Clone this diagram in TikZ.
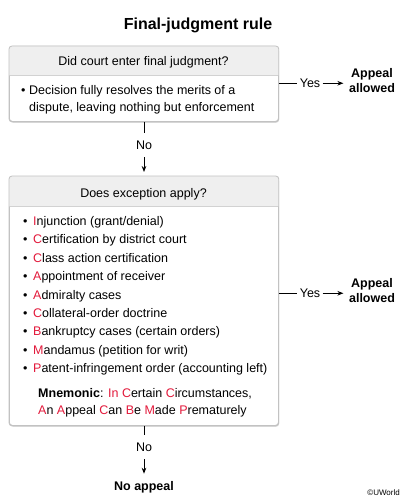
\documentclass[tikz,border=0pt]{standalone}
\usepackage{fontspec}
\setmainfont{Liberation Sans}
\usetikzlibrary{shadows,arrows.meta}
\definecolor{hdr}{HTML}{EFEFEF}
\definecolor{bord}{HTML}{C2C2C2}
\definecolor{divc}{HTML}{D2D2D2}
\definecolor{redl}{HTML}{E3193B}
\newcommand{\RL}[1]{\textcolor{redl}{#1}}
\newcommand{\bul}{\makebox[10pt][l]{•}}
\begin{document}
\begin{tikzpicture}[x=1pt,y=-1pt,
  box/.style={draw=bord, line width=0.8pt, rounded corners=3pt, fill=white, inner sep=0pt,
    drop shadow={opacity=0.3, shadow xshift=0.6pt, shadow yshift=-1.4pt}},
  txt/.style={font=\fontsize{12.5}{15}\selectfont, inner sep=0pt},
  bld/.style={font=\fontsize{12.5}{15}\bfseries\selectfont, inner sep=0pt, align=center},
  arr/.style={-{Stealth[length=6pt,width=4.6pt]}, line width=0.9pt},
  ln/.style={line width=0.9pt}]
\useasboundingbox (0,0) rectangle (404,500);

% title
\node[font=\fontsize{16}{19}\bfseries\selectfont, inner sep=0pt, anchor=base] (title) at (198,30) {Final-judgment rule};

% box 1
\node[box, anchor=north west, minimum width=269pt, minimum height=75pt] (b1) at (9,46) {};
\begin{scope}
\clip[rounded corners=3pt] (b1.north west) rectangle (b1.south east);
\fill[hdr] (b1.north west) rectangle ([yshift=-29pt]b1.north east);
\end{scope}
\draw[divc, line width=0.6pt] ([yshift=-29pt]b1.north west) -- ([yshift=-29pt]b1.north east);
\draw[bord, line width=0.8pt, rounded corners=3pt] (b1.north west) rectangle (b1.south east);
\node[txt, anchor=base] (h1) at (143.5,66) {Did court enter final judgment?};
\node[txt, anchor=base west] (d1a) at (21,95) {• Decision fully resolves the merits of a};
\node[txt, anchor=base west] (d1b) at (29,111) {dispute, leaving nothing but enforcement};

% box 2
\node[box, anchor=north west, minimum width=269pt, minimum height=249pt] (b2) at (9,176) {};
\begin{scope}
\clip[rounded corners=3pt] (b2.north west) rectangle (b2.south east);
\fill[hdr] (b2.north west) rectangle ([yshift=-30pt]b2.north east);
\end{scope}
\draw[divc, line width=0.6pt] ([yshift=-30pt]b2.north west) -- ([yshift=-30pt]b2.north east);
\draw[bord, line width=0.8pt, rounded corners=3pt] (b2.north west) rectangle (b2.south east);
\node[txt, anchor=base] (h2) at (143.5,197.5) {Does exception apply?};

\node[txt, anchor=base west] (i1) at (23,225.5) {\bul\RL{I}njunction (grant/denial)};
\node[txt, anchor=base west] (i2) at (23,243.9) {\bul\RL{C}ertification by district court};
\node[txt, anchor=base west] (i3) at (23,262.3) {\bul\RL{C}lass action certification};
\node[txt, anchor=base west] (i4) at (23,280.7) {\bul\RL{A}ppointment of receiver};
\node[txt, anchor=base west] (i5) at (23,299.1) {\bul\RL{A}dmiralty cases};
\node[txt, anchor=base west] (i6) at (23,317.5) {\bul\RL{C}ollateral-order doctrine};
\node[txt, anchor=base west] (i7) at (23,335.9) {\bul\RL{B}ankruptcy cases (certain orders)};
\node[txt, anchor=base west] (i8) at (23,354.3) {\bul\RL{M}andamus (petition for writ)};
\node[txt, anchor=base west] (i9) at (23,372.7) {\bul\RL{P}atent-infringement order (accounting left)};

\node[txt, anchor=base west] (m1) at (38,397.5) {\textbf{Mnemonic}: \RL{In} \RL{C}ertain \RL{C}ircumstances,};
\node[txt, anchor=base west] (m2) at (38,414.5) {\RL{A}n \RL{A}ppeal \RL{C}an \RL{B}e \RL{M}ade \RL{P}rematurely};

% yes branch 1
\node[txt, anchor=base, inner xsep=2.2pt] (yes1) at (310,87.5) {Yes};
\node[bld, inner xsep=5.5pt] (app1) at (372,81) {Appeal\\allowed};
\draw[ln] (b1.east |- yes1.west) -- (yes1.west);
\draw[arr] (yes1.east) -- (app1.west |- yes1.east);

% yes branch 2
\node[txt, anchor=base, inner xsep=2.2pt] (yes2) at (310,297.5) {Yes};
\node[bld, inner xsep=5.5pt] (app2) at (372,291) {Appeal\\allowed};
\draw[ln] (b2.east |- yes2.west) -- (yes2.west);
\draw[arr] (yes2.east) -- (app2.west |- yes2.east);

% no branch 1
\node[txt, anchor=base, inner ysep=7.5pt] (no1) at (144,149.5) {No};
\draw[ln] (b1.south -| no1.north) -- (no1.north);
\draw[arr, shorten >=4pt] (no1.south) -- (b2.north -| no1.south);

% no branch 2
\node[txt, anchor=base, inner ysep=7.5pt] (no2) at (144,451.5) {No};
\node[bld, anchor=base] (noapp) at (144,490.5) {No appeal};
\draw[ln] (b2.south -| no2.north) -- (no2.north);
\draw[arr, shorten >=7.5pt] (no2.south) -- (noapp.north -| no2.south);

\node[font=\fontsize{8}{9}\selectfont, inner sep=0pt, anchor=base east] (cr) at (400,495) {©UWorld};
\end{tikzpicture}
\end{document}
